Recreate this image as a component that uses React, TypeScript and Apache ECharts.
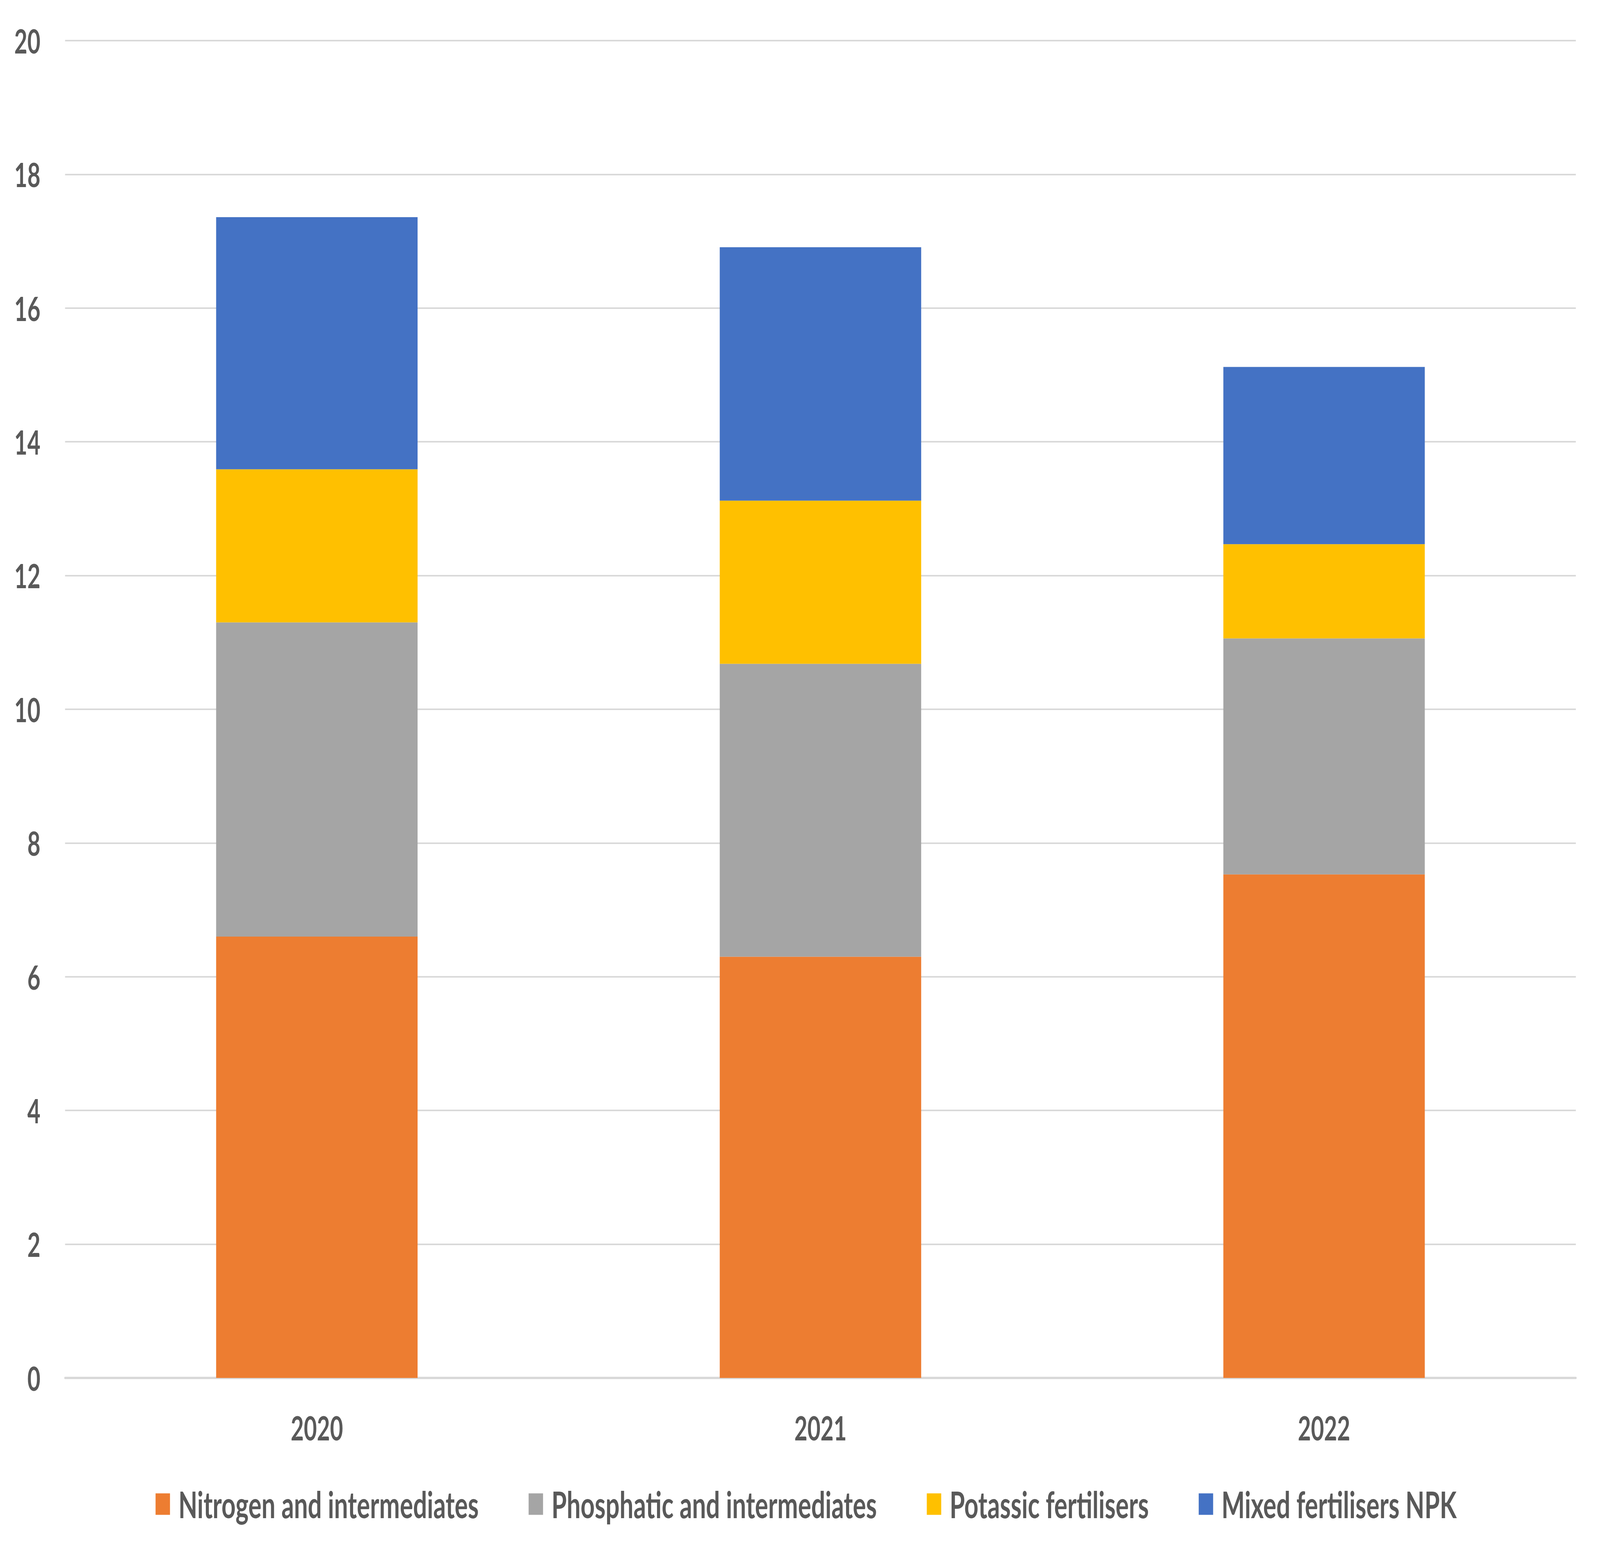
import React, { useEffect, useRef, useState } from "react";
import * as echarts from "echarts";

const categories = ["2020", "2021", "2022"];
const nitrogen = [6.6, 6.3, 7.53];
const phosphatic = [4.7, 4.38, 3.53];
const potassic = [2.29, 2.44, 1.41];
const mixedNPK = [3.77, 3.79, 2.65];
const yTicks = { min: 0, max: 20, interval: 2 };
const seriesNames = [
  "Nitrogen and intermediates",
  "Phosphatic and intermediates",
  "Potassic fertilisers",
  "Mixed fertilisers NPK",
];
const colors = ["#ED7D31", "#A5A5A5", "#FFC000", "#4472C4"];

const REF_W = 6099;
const REF_H = 3989;

export default function App() {
  const ref = useRef<HTMLDivElement>(null);
  const [scale, setScale] = useState<[number, number]>([
    Math.min(1, window.innerWidth / REF_W),
    Math.min(1, window.innerHeight / REF_H),
  ]);

  useEffect(() => {
    const onResize = () =>
      setScale([Math.min(1, window.innerWidth / REF_W), Math.min(1, window.innerHeight / REF_H)]);
    window.addEventListener("resize", onResize);
    return () => window.removeEventListener("resize", onResize);
  }, []);

  useEffect(() => {
    if (!ref.current) return;
    const chart = echarts.init(ref.current, null, { renderer: "svg" });
    const data = [nitrogen, phosphatic, potassic, mixedNPK];
    const font = "Lato, 'Noto Sans', sans-serif";
    chart.setOption({
      animation: false,
      backgroundColor: "#FFFFFF",
      textStyle: { fontFamily: font },
      grid: { left: 248, right: 92, top: 104, bottom: 461, containLabel: false },
      legend: {
        bottom: 86,
        left: 588,
        icon: "rect",
        itemWidth: 55,
        itemHeight: 55,
        itemGap: 190,
        data: seriesNames,
        textStyle: {
          fontSize: 94,
          fontWeight: "bold",
          color: "#595959",
          fontFamily: font,
          padding: [0, 0, 0, 27],
        },
      },
      xAxis: {
        type: "category",
        data: categories,
        axisTick: { show: false },
        axisLine: { show: true, lineStyle: { color: "#D9D9D9", width: 6 } },
        axisLabel: { fontSize: 86, fontWeight: "bold", color: "#595959", margin: 84, fontFamily: font },
      },
      yAxis: {
        type: "value",
        min: yTicks.min,
        max: yTicks.max,
        interval: yTicks.interval,
        axisLine: { show: false },
        axisTick: { show: false },
        splitLine: { lineStyle: { color: "#D9D9D9", width: 4 } },
        axisLabel: { fontSize: 86, fontWeight: "bold", color: "#595959", margin: 94, fontFamily: font },
      },
      series: seriesNames.map((name, i) => ({
        name,
        type: "bar",
        stack: "total",
        barWidth: "40%",
        data: data[i],
        itemStyle: { color: colors[i] },
      })),
    });
    return () => chart.dispose();
  }, []);

  return (
    <div
      ref={ref}
      style={{
        position: "absolute",
        left: 0,
        top: 0,
        width: REF_W,
        height: REF_H,
        transformOrigin: "0 0",
        transform: `scale(${scale[0]}, ${scale[1]})`,
        background: "#FFFFFF",
      }}
    />
  );
}
